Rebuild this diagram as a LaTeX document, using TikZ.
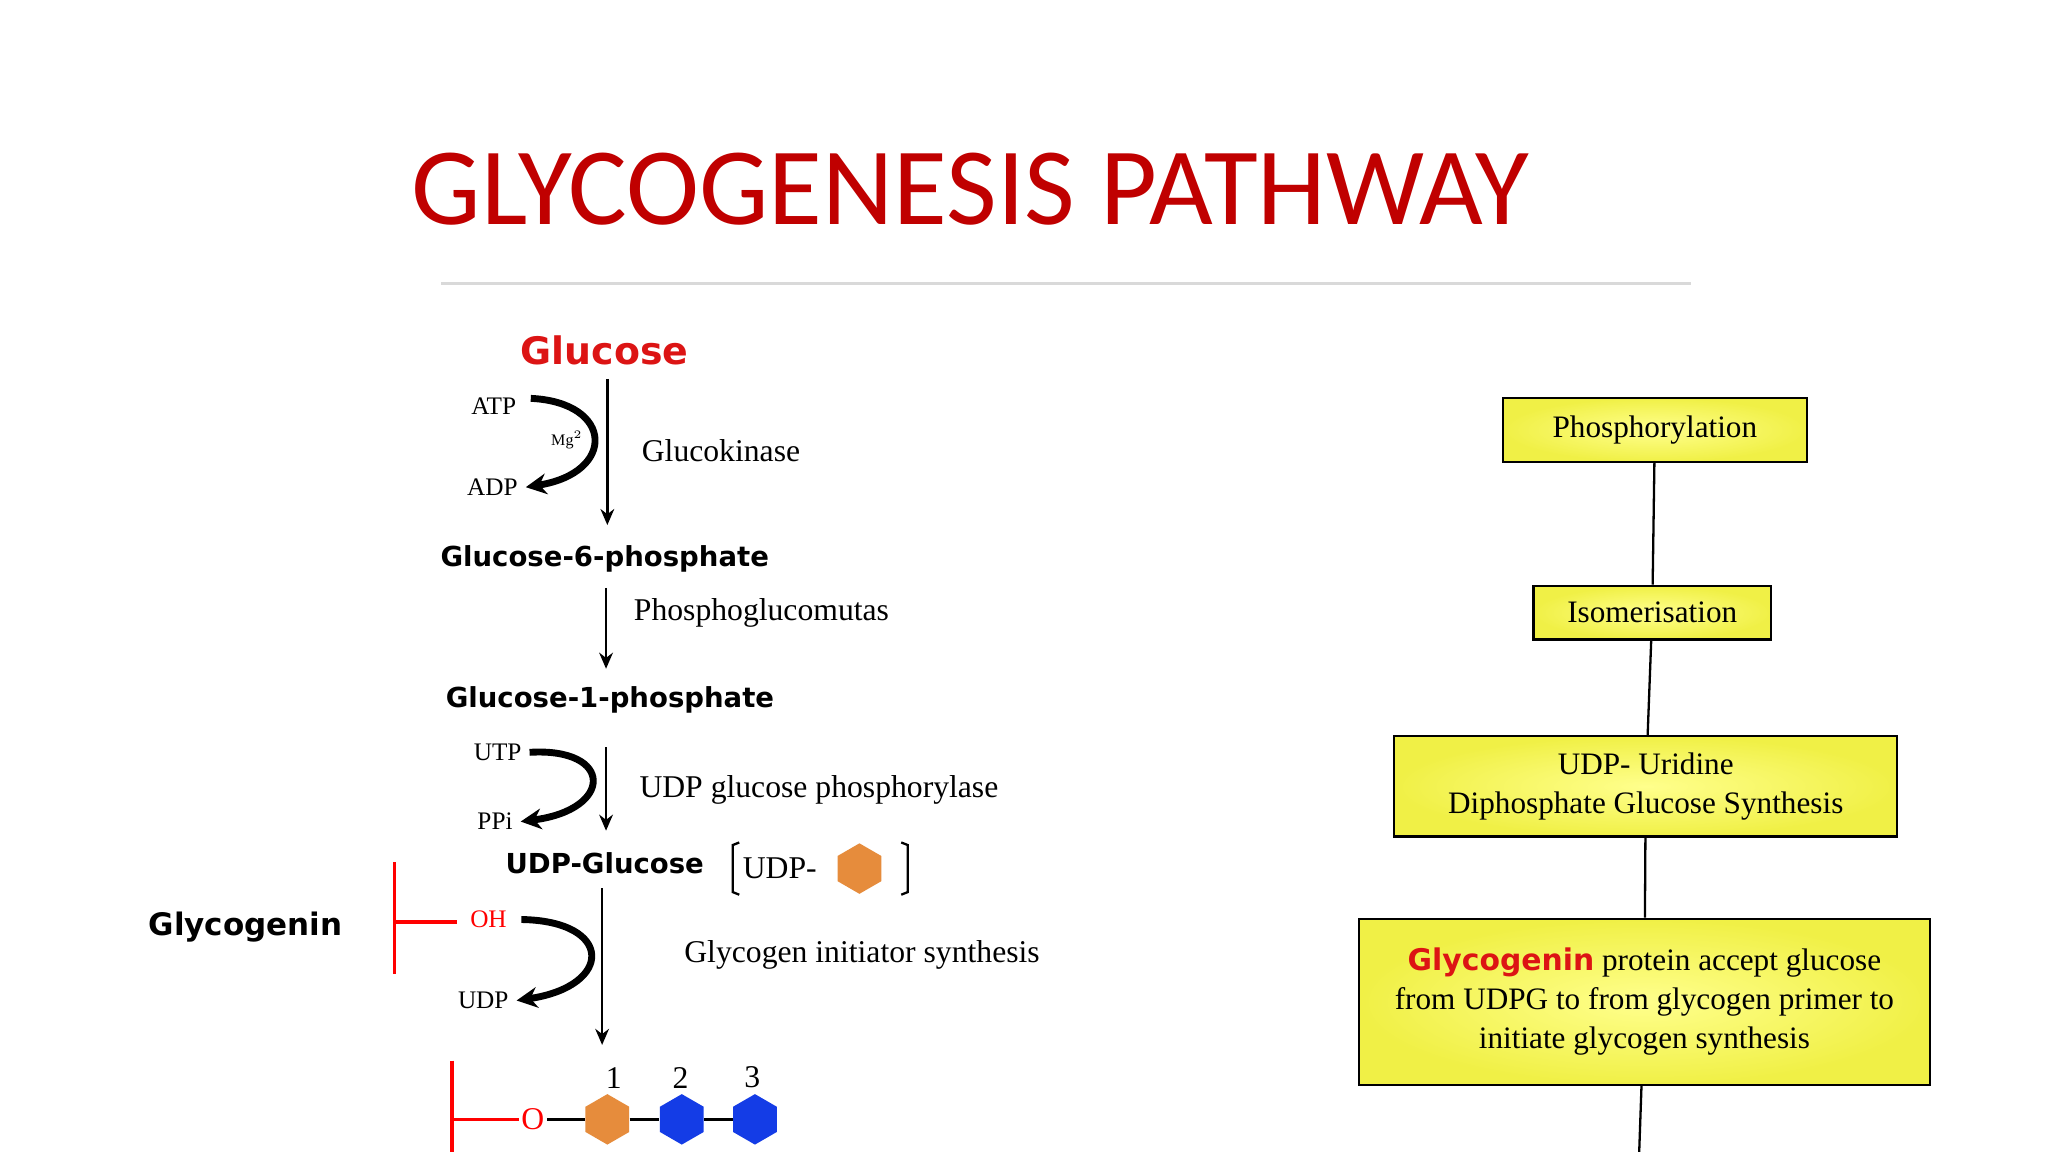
\documentclass[tikz,border=0pt]{standalone}
\usepackage{fontspec}
\setmainfont{Liberation Serif}
\newfontfamily\titlef{Carlito}
\newfontfamily\sansb{DejaVu Sans Bold}
\usetikzlibrary{shapes.geometric,arrows.meta}
\definecolor{tred}{RGB}{192,0,0}
\definecolor{gred}{RGB}{220,20,20}
\definecolor{hexo}{RGB}{230,140,60}
\definecolor{hexb}{RGB}{20,60,230}
\definecolor{boxy}{RGB}{240,240,70}
\begin{document}
\begin{tikzpicture}[x=0.02cm,y=-0.02cm,
  lbl/.style={font=\fontsize{13.8}{16}\selectfont},
  sm/.style={font=\fontsize{11}{12}\selectfont},
  bl/.style={font=\sansb\fontsize{12}{14}\selectfont},
  arr/.style={-{Stealth[length=7pt,width=6pt]},line width=1pt},
  carr/.style={-{Stealth[length=9pt,width=9pt]},line width=3pt},
  box/.style={draw=black,line width=1pt,inner color=yellow!45!white,outer color=boxy,font=\fontsize{13.6}{17}\selectfont,align=center},
  hex/.style={regular polygon,regular polygon sides=6,minimum size=22pt,inner sep=0pt,shape border rotate=90},
  tbar/.style={draw=red,line width=1.5pt}]
\useasboundingbox (0,0) rectangle (1568,882);
\fill[white] (0,0) rectangle (1568,882);
\node[font=\titlef\fontsize{48}{54}\selectfont,text=tred] (title) at (743,145) {GLYCOGENESIS PATHWAY};
\draw[black!15,line width=1pt] (338,217) coordinate (l1) -- (1295,217) coordinate (l2);
% left pathway
\node[text=gred,font=\sansb\fontsize{16.5}{18}\selectfont] (glc) at (463,268) {Glucose};
\node[bl] (g6p) at (463,428) {Glucose-6-phosphate};
\node[bl] (g1p) at (467,536) {Glucose-1-phosphate};
\node[bl] (udpg) at (463,661) {UDP-Glucose};
\node[font=\sansb\fontsize{13.5}{15}\selectfont] (gyn) at (188,710) {Glycogenin};
\coordinate (a1s) at (465,290); \coordinate (a1e) at (465,402);
\draw[arr] (a1s) -- (a1e);
\node[sm] (atp) at (378,311) {ATP};
\node[sm] (adp) at (377,373) {ADP};
\node[font=\fontsize{7}{8}\selectfont] (mg) at (434,337) {Mg$^{2}$};
\draw[carr] (atp.east)+(5,-6) .. controls (470,308) and (472,362) .. (adp.east);
\node[lbl] (gk) at (552,345) {Glucokinase};
\coordinate (a2s) at (464,450); \coordinate (a2e) at (464,512);
\draw[arr] (a2s) -- (a2e);
\node[lbl] (pgm) at (583,469) {Phosphoglucomutas};
\coordinate (a3s) at (464,572); \coordinate (a3e) at (464,636);
\draw[arr] (a3s) -- (a3e);
\node[sm] (utp) at (381,576) {UTP};
\node[sm] (ppi) at (379,629) {PPi};
\draw[carr] (utp.east) .. controls (470,572) and (470,620) .. (ppi.east);
\node[lbl] (udpgp) at (627,605) {UDP glucose phosphorylase};
\node[lbl] (udpt) at (597,665) {UDP-};
\node[hex,fill=hexo] (h0) at (658,665) {};
\draw[line width=1pt] (566,645) -- (561,647) -- (561,683) -- (566,685);
\draw[line width=1pt] (690,645) -- (695,647) -- (695,683) -- (690,685);
\draw[tbar] (302,660) -- (302,746);
\draw[tbar] (302,706) coordinate (tb) -- (350,706);
\node[sm,text=red] (oh) at (374,704) {OH};
\node[sm] (udp) at (370,766) {UDP};
\coordinate (a4s) at (461,680); \coordinate (a4e) at (461,800);
\draw[arr] (a4s) -- (a4e);
\draw[carr] (oh.east)+(5,0) .. controls (470,705) and (470,755) .. (udp.east);
\node[lbl] (gis) at (660,731) {Glycogen initiator synthesis};
% bottom chain
\draw[tbar] (346,812) -- (346,882);
\node[lbl,text=red,inner sep=1pt] (o) at (408,857) {O};
\draw[red,line width=1.5pt] (346,857) -- (o);
\node[hex,fill=hexo] (h1) at (465,857) {};
\node[hex,fill=hexb] (h2) at (522,857) {};
\node[hex,fill=hexb] (h3) at (578,857) {};
\draw[line width=1pt] (o) -- (h1) -- (h2) -- (h3);
\node[lbl] at (470,825) {1};
\node[lbl] at (521,825) {2};
\node[lbl] at (576,825) {3};
% right boxes
\node[box,minimum width=233*0.02cm,minimum height=49*0.02cm] (b1) at (1267,329) {Phosphorylation};
\node[box,minimum width=182*0.02cm,minimum height=41*0.02cm] (b2) at (1265,469) {Isomerisation};
\node[box,minimum width=385*0.02cm,minimum height=77*0.02cm] (b3) at (1260,602) {UDP- Uridine\\Diphosphate Glucose Synthesis};
\node[box,minimum width=437*0.02cm,minimum height=127*0.02cm] (b4) at (1259,767) {{\sansb\fontsize{13}{15}\selectfont\color{gred}Glycogenin} protein accept glucose\\from UDPG to from glycogen primer to\\initiate glycogen synthesis};
\coordinate (bend) at (1255,882);
\draw[line width=1pt] (b1) -- (b2) -- (b3) -- (b4) -- (bend);
\end{tikzpicture}
\end{document}
